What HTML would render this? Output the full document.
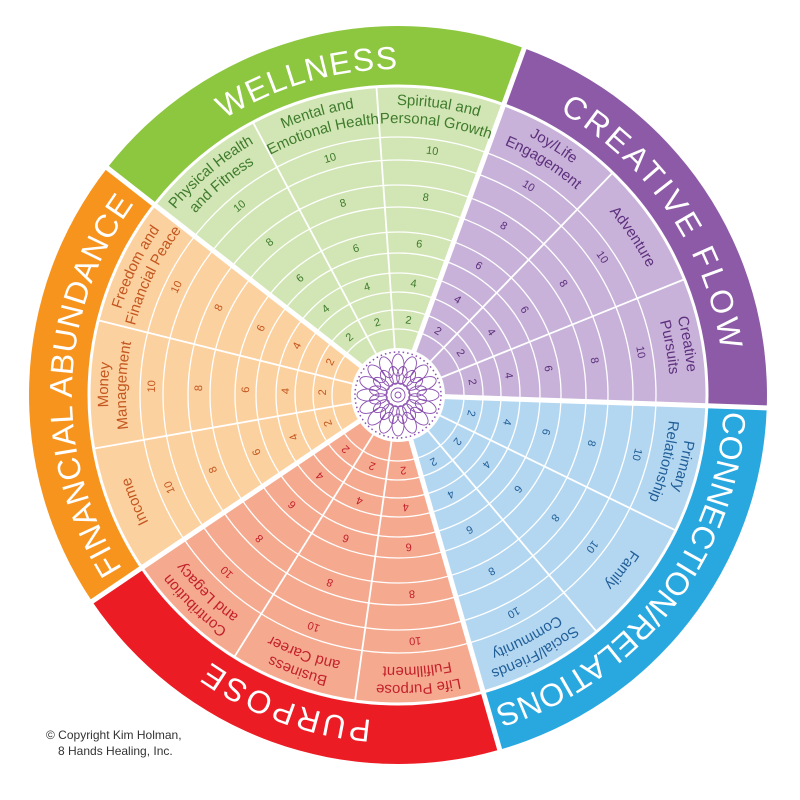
<!DOCTYPE html>
<html><head><meta charset="utf-8"><style>
html,body{margin:0;padding:0;background:#fff;width:800px;height:800px;overflow:hidden}
svg{display:block}
.t{font-family:"Liberation Sans",sans-serif;fill:#fff;font-size:32px;letter-spacing:2px}
.l{font-family:"Liberation Sans",sans-serif;font-size:15px}
.n{font-family:"Liberation Sans",sans-serif;font-size:11px}
</style></head><body>
<svg width="800" height="800" viewBox="0 0 800 800" xmlns="http://www.w3.org/2000/svg">
<defs>
<path id="c326" d="M0,326 A326,326 0 1 1 0,-326 A326,326 0 1 1 0,326"/>
<path id="c290" d="M0,290 A290,290 0 1 1 0,-290 A290,290 0 1 1 0,290"/>
<path id="c272" d="M0,272 A272,272 0 1 1 0,-272 A272,272 0 1 1 0,272"/>
<path id="c280" d="M0,280 A280,280 0 1 1 0,-280 A280,280 0 1 1 0,280"/>
<path id="band" d="M0 0 L-216.9 -298.5 A369 369 0 0 1 216.9 -298.5 Z"/>
<path id="lite" d="M0 0 L-181.6 -250.0 A309 309 0 0 1 181.6 -250.0 Z"/>
</defs>
<g transform="translate(398,395)">
<g transform="rotate(-16)"><use href="#band" fill="#8dc63f"/><use href="#lite" fill="#d2e6b5"/></g>
<g transform="rotate(56)"><use href="#band" fill="#8c5aa6"/><use href="#lite" fill="#c8b2d9"/></g>
<g transform="rotate(128)"><use href="#band" fill="#29a8e0"/><use href="#lite" fill="#b4d7f1"/></g>
<g transform="rotate(200)"><use href="#band" fill="#ec1c24"/><use href="#lite" fill="#f5aa90"/></g>
<g transform="rotate(272)"><use href="#band" fill="#f7941d"/><use href="#lite" fill="#fcd1a0"/></g>
<g fill="none" stroke="#fff">
<circle r="309" stroke-width="3"/>
<g stroke-width="1.3">
<circle r="66"/><circle r="85"/><circle r="103"/><circle r="122"/><circle r="142"/><circle r="163"/><circle r="188"/><circle r="210"/><circle r="235"/><circle r="258"/>
</g>
</g>
<g stroke="#fff" stroke-width="1.8">
<line x1="0" y1="-46" x2="0" y2="-309" transform="rotate(44)"/>
<line x1="0" y1="-46" x2="0" y2="-309" transform="rotate(68)"/>
<line x1="0" y1="-46" x2="0" y2="-309" transform="rotate(116)"/>
<line x1="0" y1="-46" x2="0" y2="-309" transform="rotate(140)"/>
<line x1="0" y1="-46" x2="0" y2="-309" transform="rotate(188)"/>
<line x1="0" y1="-46" x2="0" y2="-309" transform="rotate(212)"/>
<line x1="0" y1="-46" x2="0" y2="-309" transform="rotate(260)"/>
<line x1="0" y1="-46" x2="0" y2="-309" transform="rotate(284)"/>
<line x1="0" y1="-46" x2="0" y2="-309" transform="rotate(332)"/>
<line x1="0" y1="-46" x2="0" y2="-309" transform="rotate(356)"/>
</g>
<g stroke="#fff" stroke-width="5">
<line x1="0" y1="0" x2="0" y2="-372" transform="rotate(20)"/>
<line x1="0" y1="0" x2="0" y2="-372" transform="rotate(92)"/>
<line x1="0" y1="0" x2="0" y2="-372" transform="rotate(164)"/>
<line x1="0" y1="0" x2="0" y2="-372" transform="rotate(236)"/>
<line x1="0" y1="0" x2="0" y2="-372" transform="rotate(308)"/>
</g>
<circle r="47" fill="#fff"/>
<g fill="none" stroke="#8a4fb0" stroke-width="0.9">
<g id="p1"><ellipse cx="0" cy="-30" rx="6" ry="11"/></g>
<use href="#p1" transform="rotate(22.5)"/><use href="#p1" transform="rotate(45)"/><use href="#p1" transform="rotate(67.5)"/><use href="#p1" transform="rotate(90)"/><use href="#p1" transform="rotate(112.5)"/><use href="#p1" transform="rotate(135)"/><use href="#p1" transform="rotate(157.5)"/><use href="#p1" transform="rotate(180)"/><use href="#p1" transform="rotate(202.5)"/><use href="#p1" transform="rotate(225)"/><use href="#p1" transform="rotate(247.5)"/><use href="#p1" transform="rotate(270)"/><use href="#p1" transform="rotate(292.5)"/><use href="#p1" transform="rotate(315)"/><use href="#p1" transform="rotate(337.5)"/>
<g id="p2" transform="rotate(11.25)"><ellipse cx="0" cy="-20" rx="5" ry="9"/></g>
<use href="#p2" transform="rotate(22.5)"/><use href="#p2" transform="rotate(45)"/><use href="#p2" transform="rotate(67.5)"/><use href="#p2" transform="rotate(90)"/><use href="#p2" transform="rotate(112.5)"/><use href="#p2" transform="rotate(135)"/><use href="#p2" transform="rotate(157.5)"/><use href="#p2" transform="rotate(180)"/><use href="#p2" transform="rotate(202.5)"/><use href="#p2" transform="rotate(225)"/><use href="#p2" transform="rotate(247.5)"/><use href="#p2" transform="rotate(270)"/><use href="#p2" transform="rotate(292.5)"/><use href="#p2" transform="rotate(315)"/><use href="#p2" transform="rotate(337.5)"/>
<circle r="12"/><circle r="7"/><circle r="3"/>
<circle r="43" stroke-dasharray="1.5 3" stroke-width="1.5"/>
</g>
<g transform="rotate(-16)"><text class="t"><textPath href="#c326" startOffset="50%" text-anchor="middle" textLength="185" lengthAdjust="spacing">WELLNESS</textPath></text></g>
<g transform="rotate(56)"><text class="t"><textPath href="#c326" startOffset="50%" text-anchor="middle" textLength="300" lengthAdjust="spacing">CREATIVE FLOW</textPath></text></g>
<g transform="rotate(128)"><text class="t"><textPath href="#c326" startOffset="50%" text-anchor="middle" textLength="400" lengthAdjust="spacing">CONNECTION/RELATIONS</textPath></text></g>
<g transform="rotate(200)"><text class="t"><textPath href="#c326" startOffset="50%" text-anchor="middle" textLength="175" lengthAdjust="spacing">PURPOSE</textPath></text></g>
<g transform="rotate(272)"><text class="t"><textPath href="#c326" startOffset="50%" text-anchor="middle" textLength="390" lengthAdjust="spacing">FINANCIAL ABUNDANCE</textPath></text></g>
<g class="l" text-anchor="middle">
<g fill="#3f7b2c">
<g transform="rotate(320)"><text><textPath href="#c290" startOffset="50%">Physical Health</textPath></text><text><textPath href="#c272" startOffset="50%">and Fitness</textPath></text></g>
<g transform="rotate(344)"><text><textPath href="#c290" startOffset="50%">Mental and</textPath></text><text><textPath href="#c272" startOffset="50%">Emotional Health</textPath></text></g>
<g transform="rotate(8)"><text><textPath href="#c290" startOffset="50%">Spiritual and</textPath></text><text><textPath href="#c272" startOffset="50%">Personal Growth</textPath></text></g>
</g>
<g fill="#5d2f7d">
<g transform="rotate(32)"><text><textPath href="#c290" startOffset="50%">Joy/Life</textPath></text><text><textPath href="#c272" startOffset="50%">Engagement</textPath></text></g>
<g transform="rotate(56)"><text><textPath href="#c280" startOffset="50%">Adventure</textPath></text></g>
<g transform="rotate(80)"><text><textPath href="#c290" startOffset="50%">Creative</textPath></text><text><textPath href="#c272" startOffset="50%">Pursuits</textPath></text></g>
</g>
<g fill="#215f99">
<g transform="rotate(104)"><text><textPath href="#c290" startOffset="50%">Primary</textPath></text><text><textPath href="#c272" startOffset="50%">Relationship</textPath></text></g>
<g transform="rotate(128)"><text><textPath href="#c280" startOffset="50%">Family</textPath></text></g>
<g transform="rotate(152)"><text><textPath href="#c290" startOffset="50%">Social/Friends</textPath></text><text><textPath href="#c272" startOffset="50%">Community</textPath></text></g>
</g>
<g fill="#c3202a">
<g transform="rotate(176)"><text><textPath href="#c290" startOffset="50%">Life Purpose</textPath></text><text><textPath href="#c272" startOffset="50%">Fulfillment</textPath></text></g>
<g transform="rotate(200)"><text><textPath href="#c290" startOffset="50%">Business</textPath></text><text><textPath href="#c272" startOffset="50%">and Career</textPath></text></g>
<g transform="rotate(224)"><text><textPath href="#c290" startOffset="50%">Contribution</textPath></text><text><textPath href="#c272" startOffset="50%">and Legacy</textPath></text></g>
</g>
<g fill="#c4561f">
<g transform="rotate(248)"><text><textPath href="#c280" startOffset="50%">Income</textPath></text></g>
<g transform="rotate(272)"><text><textPath href="#c290" startOffset="50%">Money</textPath></text><text><textPath href="#c272" startOffset="50%">Management</textPath></text></g>
<g transform="rotate(296)"><text><textPath href="#c290" startOffset="50%">Freedom and</textPath></text><text><textPath href="#c272" startOffset="50%">Financial Peace</textPath></text></g>
</g>
</g>
<g class="n" text-anchor="middle" dominant-baseline="central">
<g fill="#3f7b2c">
<g transform="rotate(320)"><text y="-246">10</text><text y="-199">8</text><text y="-152">6</text><text y="-112">4</text><text y="-75">2</text></g>
<g transform="rotate(344)"><text y="-246">10</text><text y="-199">8</text><text y="-152">6</text><text y="-112">4</text><text y="-75">2</text></g>
<g transform="rotate(8)"><text y="-246">10</text><text y="-199">8</text><text y="-152">6</text><text y="-112">4</text><text y="-75">2</text></g>
</g>
<g fill="#5d2f7d">
<g transform="rotate(32)"><text y="-246">10</text><text y="-199">8</text><text y="-152">6</text><text y="-112">4</text><text y="-75">2</text></g>
<g transform="rotate(56)"><text y="-246">10</text><text y="-199">8</text><text y="-152">6</text><text y="-112">4</text><text y="-75">2</text></g>
<g transform="rotate(80)"><text y="-246">10</text><text y="-199">8</text><text y="-152">6</text><text y="-112">4</text><text y="-75">2</text></g>
</g>
<g fill="#215f99">
<g transform="rotate(104)"><text y="-246">10</text><text y="-199">8</text><text y="-152">6</text><text y="-112">4</text><text y="-75">2</text></g>
<g transform="rotate(128)"><text y="-246">10</text><text y="-199">8</text><text y="-152">6</text><text y="-112">4</text><text y="-75">2</text></g>
<g transform="rotate(152)"><text y="-246">10</text><text y="-199">8</text><text y="-152">6</text><text y="-112">4</text><text y="-75">2</text></g>
</g>
<g fill="#c3202a">
<g transform="rotate(176)"><text y="-246">10</text><text y="-199">8</text><text y="-152">6</text><text y="-112">4</text><text y="-75">2</text></g>
<g transform="rotate(200)"><text y="-246">10</text><text y="-199">8</text><text y="-152">6</text><text y="-112">4</text><text y="-75">2</text></g>
<g transform="rotate(224)"><text y="-246">10</text><text y="-199">8</text><text y="-152">6</text><text y="-112">4</text><text y="-75">2</text></g>
</g>
<g fill="#c4561f">
<g transform="rotate(248)"><text y="-246">10</text><text y="-199">8</text><text y="-152">6</text><text y="-112">4</text><text y="-75">2</text></g>
<g transform="rotate(272)"><text y="-246">10</text><text y="-199">8</text><text y="-152">6</text><text y="-112">4</text><text y="-75">2</text></g>
<g transform="rotate(296)"><text y="-246">10</text><text y="-199">8</text><text y="-152">6</text><text y="-112">4</text><text y="-75">2</text></g>
</g>
</g>
</g>
<text x="46" y="739" font-family="Liberation Sans, sans-serif" font-size="12" fill="#333">© Copyright Kim Holman,</text>
<text x="58" y="755" font-family="Liberation Sans, sans-serif" font-size="12" fill="#333">8 Hands Healing, Inc.</text>
</svg>
</body></html>
